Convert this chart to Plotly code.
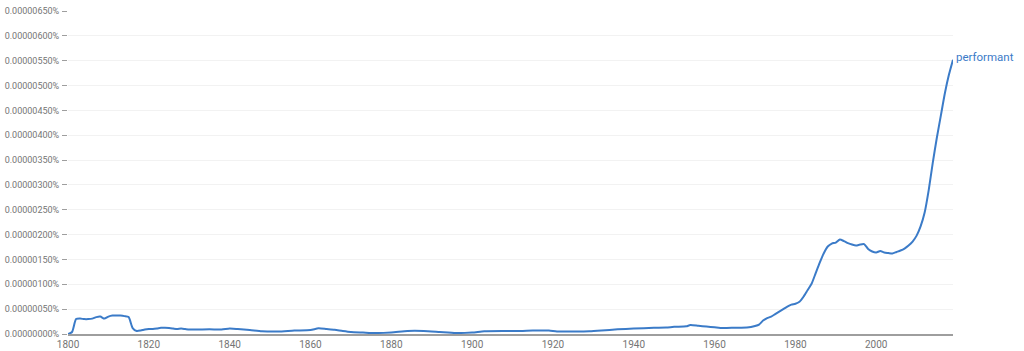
import plotly.graph_objects as go

# Ngram data: years and frequency in units of 1e-8 percent
years = [1800, 1801, 1802, 1803, 1804, 1805, 1806, 1807, 1808, 1809, 1810, 1811, 1812, 1813, 1814,
         1815, 1816, 1817, 1818, 1819, 1820, 1821, 1822, 1823, 1824, 1825, 1826, 1827, 1828, 1829,
         1830, 1832, 1835, 1838, 1840, 1842, 1845, 1848, 1852, 1856, 1860, 1862, 1864, 1866, 1868,
         1870, 1873, 1876, 1880, 1884, 1888, 1892, 1896, 1900, 1903, 1908, 1912, 1915, 1919, 1921,
         1925, 1929, 1932, 1936, 1940, 1945, 1948, 1950, 1953, 1954, 1956, 1958, 1960, 1962, 1965,
         1968, 1969, 1970, 1971, 1972, 1973, 1974, 1975, 1976, 1977, 1978, 1979, 1980, 1981, 1982,
         1983, 1984, 1985, 1986, 1987, 1988, 1989, 1990, 1991, 1992, 1993, 1994, 1995, 1996, 1997,
         1998, 1999, 2000, 2001, 2002, 2003, 2004, 2005, 2006, 2007, 2008, 2009, 2010, 2011, 2012,
         2013, 2014, 2015, 2016, 2017, 2018, 2019]
values_e8 = [0, 4, 30, 31, 30, 30, 31, 34, 35, 31, 35, 37, 37, 37, 36,
             34, 12, 6, 7, 9, 10, 10, 11, 12.5, 12.5, 12, 11, 10, 11, 10,
             9, 9, 9.5, 9, 11, 10, 8, 5.5, 5, 7, 8, 11.5, 10, 8.5, 6,
             4, 3, 2, 3, 6, 6, 4, 2, 3, 5.5, 6, 6, 7, 7, 5,
             5, 5.5, 7, 9.5, 11, 12.5, 13, 14.5, 15.5, 18, 16.5, 15, 13.5, 12, 12.5,
             13, 14, 16, 19, 27, 32, 35, 40, 45, 50, 55, 59, 61, 65, 75,
             88, 101, 122, 143, 162, 176, 182, 184, 190, 187, 183, 180, 178, 180, 181,
             171, 166, 164, 167, 164, 163, 162, 165, 168, 172, 178, 186, 198, 217, 245,
             290, 345, 395, 440, 485, 522, 552]
series_name = "performant"
tick_values_e8 = [0, 50, 100, 150, 200, 250, 300, 350, 400, 450, 500, 550, 600, 650]
tick_labels = ["0.00000000%", "0.00000050%", "0.00000100%", "0.00000150%", "0.00000200%",
               "0.00000250%", "0.00000300%", "0.00000350%", "0.00000400%", "0.00000450%",
               "0.00000500%", "0.00000550%", "0.00000600%", "0.00000650%"]
x_ticks = [1800, 1820, 1840, 1860, 1880, 1900, 1920, 1940, 1960, 1980, 2000]

SCALE = 1e-8
y = [v * SCALE for v in values_e8]
tickvals = [t * SCALE for t in tick_values_e8]

line_color = "#3b7bc8"
grey = "#757575"

fig = go.Figure()
fig.add_trace(go.Scatter(x=years, y=y, mode="lines", name=series_name,
                         line=dict(color=line_color, width=2, shape="spline", smoothing=0.6),
                         hoverinfo="skip"))

fig.add_annotation(x=years[-1], y=y[-1], text=series_name, showarrow=False,
                   xanchor="left", yanchor="middle", xshift=1, yshift=3,
                   font=dict(color=line_color, size=11.5, family="Roboto"))

fig.update_layout(
    width=1024, height=351,
    margin=dict(l=68, r=71, t=11, b=17),
    paper_bgcolor="white", plot_bgcolor="white",
    showlegend=False,
    font=dict(family="Roboto", color=grey, size=10),
    xaxis=dict(range=[1800, 2019], tickvals=x_ticks, showgrid=False, zeroline=False,
               showline=True, linecolor="#9e9e9e", linewidth=1.5, ticks="",
               tickfont=dict(size=10, color=grey), ticklabelstandoff=0, automargin=False),
    yaxis=dict(range=[0, 650 * SCALE], tickvals=tickvals, ticktext=tick_labels,
               showgrid=True, gridcolor="#f2f2f2", gridwidth=1, zeroline=False,
               showline=False, ticks="outside", ticklen=5, tickcolor="#9e9e9e",
               tickfont=dict(size=9, color=grey), ticklabelstandoff=1, automargin=False),
)

fig.write_html("out.html")
